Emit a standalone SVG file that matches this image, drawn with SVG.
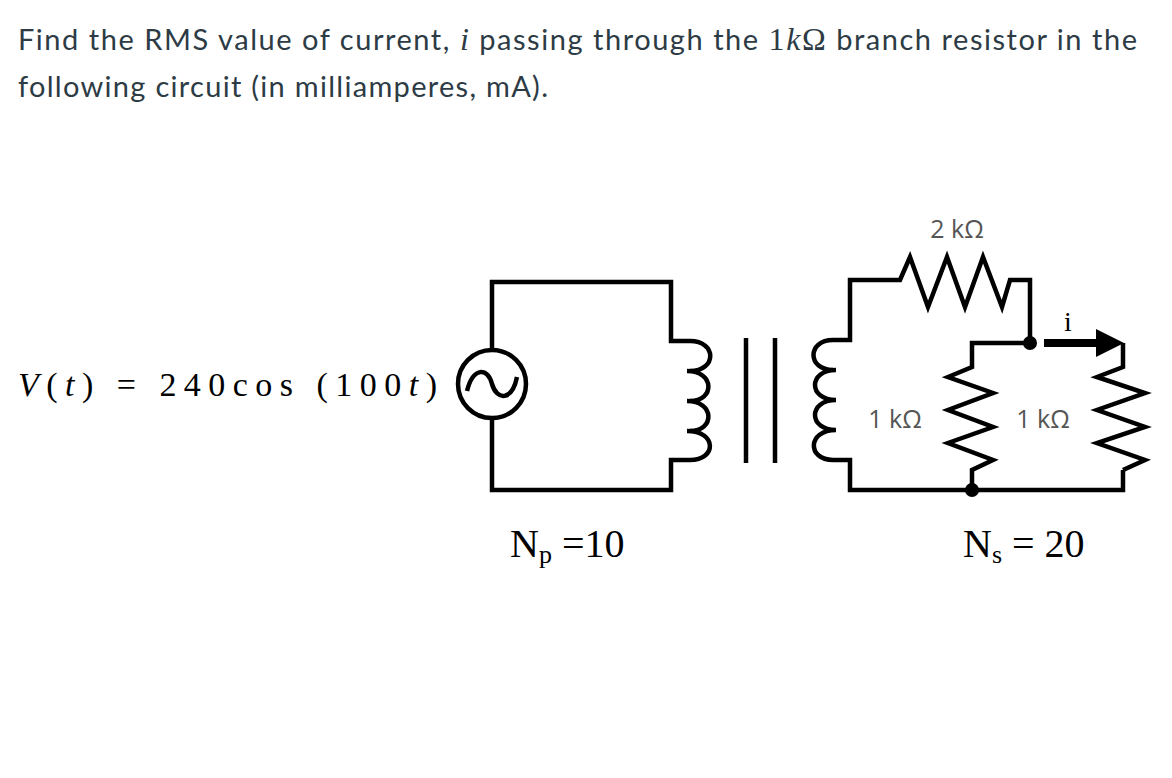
<svg xmlns="http://www.w3.org/2000/svg" width="1172" height="778" viewBox="0 0 1172 778">
<style>
.q{font-family:Lato,"Open Sans","Liberation Sans",sans-serif;font-size:29px;fill:#2d3b45}
.m{font-family:"Liberation Serif",serif}
.w{fill:none;stroke:#000;stroke-width:4.5;stroke-linejoin:miter}
.r{font-family:"Open Sans","DejaVu Sans",sans-serif;font-size:25px;fill:#555}
.n{font-family:"Liberation Serif",serif;font-size:40px;fill:#000}
</style>
<rect width="1172" height="778" fill="#fff"/>
<g id="question">
<text class="q" x="18" y="50" textLength="1119" lengthAdjust="spacing">Find the RMS value of current, <tspan class="m" font-style="italic" font-size="32">i</tspan>  passing through the <tspan class="m" font-size="32">1<tspan font-style="italic">k</tspan>Ω</tspan> branch resistor in the</text>
<text class="q" x="18" y="97" textLength="530" lengthAdjust="spacing">following circuit (in milliamperes, mA).</text>
</g>
<g id="source">
<text class="m" x="18" y="396" font-size="34" font-style="italic" textLength="419" lengthAdjust="spacing">V<tspan font-style="normal">(</tspan>t<tspan font-style="normal">) = 240cos (100</tspan>t<tspan font-style="normal">)</tspan></text>
<circle cx="492" cy="384" r="34" class="w"/>
<path d="M467,391 C473,367 488,367 492,384 C497,401 512,401 517,377" class="w"/>
</g>
<g id="connectors">
<path class="w" d="M492,350 V282 H671 V341 H690 M690,460 H671 V490 H492 V418"/>
<path class="w" d="M690,341 C717,341 717,371 690,371 M687,371 C715,371 715,401 690,401 M687,401 C715,401 715,431 690,431 M687,431 C717,431 717,460 690,460"/>
<path class="w" stroke-width="4" d="M746,338 V463 M775,338 V463"/>
<path class="w" d="M833,340 C807,340 807,370 833,370 M836,370 C808,370 808,400 836,400 M836,400 C808,400 808,430 836,430 M836,430 C807,430 807,460 833,460"/>
<path class="w" d="M833,340 H850 V280 H900 L910,257 L928,307 L947,257 L965,307 L983,257 L1002,307 L1010,280 H1030 V343"/>
<path class="w" d="M833,460 H850 V490 H1123 V470"/>
<path class="w" d="M1030,343 H972 V367 L948,377 L993,393 L948,410 L993,427 L948,443 L993,460 L972,470 V490"/>
<path class="w" d="M1123,343 V367 L1097,377 L1145,393 L1097,410 L1145,427 L1097,443 L1145,460 L1123,470"/>
<circle cx="1030" cy="343" r="7"/>
<circle cx="972" cy="490" r="7"/>
<path d="M1044,343 H1100" stroke="#000" stroke-width="8"/>
<path d="M1096,329 L1124,343 L1096,357 Z"/>
</g>
<g id="labels">
<text class="r" x="957" y="238" text-anchor="middle">2 kΩ</text>
<text class="r" x="895" y="428" text-anchor="middle">1 kΩ</text>
<text class="r" x="1043" y="428" text-anchor="middle">1 kΩ</text>
<text class="m" x="1068" y="331" font-size="28" text-anchor="middle">i</text>
<text class="n" x="510" y="557">N<tspan font-size="26" dy="6">p</tspan><tspan dy="-6"> =10</tspan></text>
<text class="n" x="963" y="557">N<tspan font-size="26" dy="6">s</tspan><tspan dy="-6"> = 20</tspan></text>
</g>
</svg>
